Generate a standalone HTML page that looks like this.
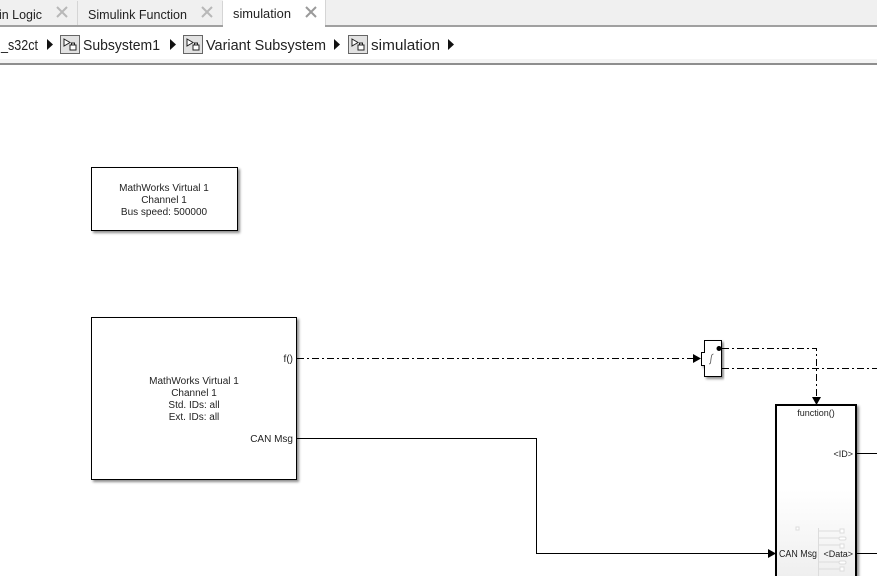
<!DOCTYPE html>
<html><head><meta charset="utf-8">
<style>
html,body{margin:0;padding:0;background:#fff}
#p{position:relative;width:877px;height:576px;overflow:hidden;background:#fff}
svg{position:absolute;left:0;top:0}
text{font-family:"Liberation Sans",sans-serif}
.b{font-size:10px;fill:#222}
.t{font-size:13px;fill:#222}
.c{font-size:14.5px;fill:#222}
</style></head><body><div id="p">
<svg width="877" height="576" viewBox="0 0 877 576">
<defs>
<filter id="s" x="-10%" y="-10%" width="125%" height="125%"><feDropShadow dx="2" dy="2" stdDeviation="1.2" flood-color="#000" flood-opacity=".45"/></filter>
<linearGradient id="g" x1="0" y1="0" x2="0" y2="1"><stop offset="0" stop-color="#fff"/><stop offset="1" stop-color="#efefef"/></linearGradient>
<g id="ic"><rect x="0.5" y="0.5" width="19" height="18" fill="#e2e2e2" stroke="#666"/><path d="M4 4l6 3.500-6 3.500z" fill="#fff" stroke="#222"/><rect x="10" y="10" width="6" height="5" fill="#fff" stroke="#222"/><path d="M11.500 10V8h3v2" fill="none" stroke="#222"/></g>
</defs>
<!-- tabs -->
<rect x="0" y="0" width="877" height="25" fill="#f0f0f0"/>
<rect x="0" y="25" width="877" height="2" fill="#a0a0a0"/>
<rect x="77" y="1" width="1" height="24" fill="#d5d5d5"/>
<rect x="222" y="1" width="1" height="24" fill="#d5d5d5"/>
<rect x="223" y="0" width="102" height="27" fill="#fff"/>
<rect x="325" y="0" width="1" height="25" fill="#d5d5d5"/>
<text class="t" x="-1" y="19" textLength="43" lengthAdjust="spacingAndGlyphs">in Logic</text>
<text class="t" x="88" y="19" textLength="99" lengthAdjust="spacingAndGlyphs">Simulink Function</text>
<text class="t" x="233" y="18" textLength="58" lengthAdjust="spacingAndGlyphs">simulation</text>
<g stroke="#b8b8b8" stroke-width="2" fill="none"><path d="M57 7l10 10M67 7L57 17M202 7l10 10M212 7l-10 10"/></g>
<path d="M306 7l10 10M316 7l-10 10" stroke="#9a9a9a" stroke-width="2" fill="none"/>
<!-- breadcrumb -->
<rect x="0" y="27" width="877" height="32" fill="#fff"/>
<rect x="0" y="59" width="877" height="4" fill="#f4f4f4"/>
<rect x="0" y="63" width="877" height="2" fill="#8e8e8e"/>
<text class="c" x="1" y="50" textLength="37" lengthAdjust="spacingAndGlyphs">_s32ct</text>
<path d="M47 39l6 5.500-6 5.500z" fill="#111"/>
<use href="#ic" x="60" y="35"/>
<text class="c" x="83" y="50" textLength="77" lengthAdjust="spacingAndGlyphs">Subsystem1</text>
<path d="M170 39l6 5.500-6 5.500z" fill="#111"/>
<use href="#ic" x="183" y="35"/>
<text class="c" x="206" y="50" textLength="120" lengthAdjust="spacingAndGlyphs">Variant Subsystem</text>
<path d="M334 39l6 5.500-6 5.500z" fill="#111"/>
<use href="#ic" x="348" y="35"/>
<text class="c" x="371" y="50" textLength="69" lengthAdjust="spacingAndGlyphs">simulation</text>
<path d="M448 39l6 5.500-6 5.500z" fill="#111"/>
<!-- block 1 -->
<rect x="91.500" y="167.500" width="146" height="63" fill="#fff" stroke="#000" filter="url(#s)"/>
<g class="b" text-anchor="middle"><text x="164" y="191">MathWorks Virtual 1</text><text x="164" y="203">Channel 1</text><text x="164" y="215">Bus speed: 500000</text></g>
<!-- block 2 -->
<rect x="91.500" y="317.500" width="205" height="162" fill="#fff" stroke="#000" filter="url(#s)"/>
<g class="b" text-anchor="middle"><text x="194" y="384">MathWorks Virtual 1</text><text x="194" y="396">Channel 1</text><text x="194" y="408">Std. IDs: all</text><text x="194" y="420">Ext. IDs: all</text></g>
<g class="b" text-anchor="end"><text x="293" y="362">f()</text><text x="293" y="442">CAN Msg</text></g>
<!-- connectors -->
<g fill="none" stroke="#000" stroke-dasharray="7 3 2 3">
<path d="M297 358.500H693"/>
<path d="M722 348.500H816.500V397"/>
<path d="M722 368.500H877"/>
</g>
<path d="M693 354l8 4.500-8 4.500z" fill="#000"/>
<path d="M812 397h9l-4.500 8z" fill="#000"/>
<path d="M297 438.500H536.500V553.500H769" fill="none" stroke="#000"/>
<path d="M768 549l8 4.500-8 4.500z" fill="#000"/>
<path d="M857 453.500H877M857 553.500H877" stroke="#000"/>
<!-- function caller -->
<path d="M704.500 340.500H721.500V376.500H704.500V365.500H701.500V352.500H704.500Z" fill="#fff" stroke="#000" filter="url(#s)"/>
<circle cx="719" cy="348.500" r="2.500" fill="#000"/>
<path d="M709 364c2 0 1.500-2 2-5s.5-5 2.500-5" fill="none" stroke="#555" stroke-width=".8"/>
<!-- function block -->
<rect x="776" y="405" width="80" height="190" fill="#fff" stroke="#000" stroke-width="2" filter="url(#s)"/>
<rect x="777" y="490" width="78" height="86" fill="url(#g)"/>
<g stroke="#dcdcdc" fill="#fff" stroke-width="1">
<rect x="796" y="527" width="3" height="3"/>
<path d="M818.500 528V576M819 531H840M819 538H839M819 545H840M819 562H839M819 569H840" fill="none"/>
<rect x="840" y="529" width="4" height="4"/>
<rect x="839" y="537" width="7" height="3" rx="1.500"/>
<rect x="840" y="544" width="4" height="4"/>
<rect x="839" y="561" width="7" height="3" rx="1.500"/>
<rect x="840" y="567" width="4" height="4"/>
</g>
<text class="b" x="816" y="416" text-anchor="middle" style="font-size:9px">function()</text>
<text class="b" x="853" y="457" text-anchor="end" style="font-size:9px">&lt;ID&gt;</text>
<text class="b" x="779" y="557" style="font-size:10px" textLength="38" lengthAdjust="spacingAndGlyphs">CAN Msg</text>
<text class="b" x="853" y="557" text-anchor="end" style="font-size:9px">&lt;Data&gt;</text>
</svg>
</div></body></html>
